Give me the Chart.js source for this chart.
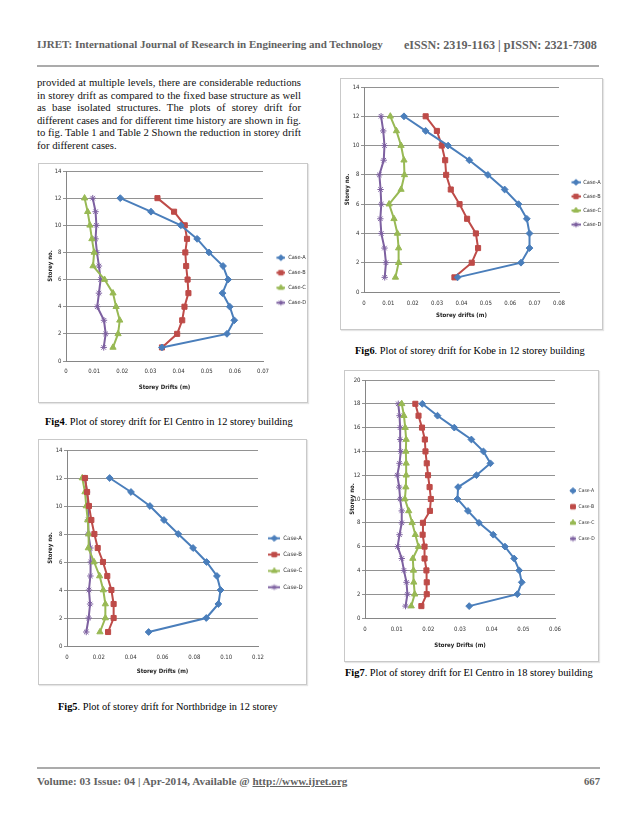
<!DOCTYPE html>
<html>
<head>
<meta charset="utf-8">
<script src="https://cdn.jsdelivr.net/npm/chart.js@4.4.1/dist/chart.umd.min.js"></script>
<style>
html, body { margin: 0; padding: 0; background: #fff; }
#page { position: relative; width: 638px; height: 826px; overflow: hidden; background: #fff;
  font-family: "Liberation Serif", "Times New Roman", serif; color: #000; }
.t { position: absolute; white-space: nowrap; font-size: 10px; line-height: 1.2; }
.hd { font-weight: bold; color: #626262; }
.hd u { text-decoration: underline; }
.rule { position: absolute; height: 2px; background: #ababab; }
.box { position: absolute; box-sizing: border-box; border: 1px solid #c9c9c9; background: #fff;
  box-shadow: 1px 1px 1px rgba(0,0,0,0.10); }
.box canvas { position: absolute; left: 0; top: 0; }
.pl { position: absolute; white-space: nowrap; line-height: 12px; height: 12px; overflow: visible; color: #111; }
</style>
</head>
<body>
<div id="page"></div>
<script>
// storey numbers (y values)
const storeys12 = [1, 2, 3, 4, 5, 6, 7, 8, 9, 10, 11, 12];
const storeys18 = [1, 2, 3, 4, 5, 6, 7, 8, 9, 10, 11, 12, 13, 14, 15, 16, 17, 18];
const caseNames = ['Case-A', 'Case-B', 'Case-C', 'Case-D'];

// Fig4 - El Centro, 12 storey (drift in m, storey 1..12)
const elc12A = [0.0341, 0.0572, 0.0598, 0.0582, 0.0556, 0.0576, 0.0558, 0.0508, 0.0466, 0.0408, 0.0302, 0.0193];
const elc12B = [0.0341, 0.0395, 0.0413, 0.0421, 0.0435, 0.0432, 0.0427, 0.0424, 0.0430, 0.0422, 0.0384, 0.0325];
const elc12C = [0.0167, 0.0185, 0.0191, 0.0178, 0.0167, 0.0137, 0.0096, 0.0100, 0.0092, 0.0085, 0.0077, 0.0066];
const elc12D = [0.0134, 0.0141, 0.0135, 0.0111, 0.0117, 0.0123, 0.0117, 0.0110, 0.0105, 0.0108, 0.0105, 0.0095];

// Fig6 - Kobe, 12 storey
const kobeA = [0.0384, 0.0644, 0.0679, 0.0679, 0.0668, 0.0634, 0.0577, 0.0508, 0.0432, 0.0345, 0.0253, 0.0164];
const kobeB = [0.0371, 0.0442, 0.0468, 0.0459, 0.0423, 0.0392, 0.0356, 0.0337, 0.0333, 0.0319, 0.0299, 0.0253];
const kobeC = [0.0129, 0.0142, 0.0142, 0.0137, 0.0123, 0.0103, 0.0152, 0.0166, 0.0164, 0.0152, 0.0133, 0.0108];
const kobeD = [0.0085, 0.0090, 0.0084, 0.0071, 0.0067, 0.0071, 0.0068, 0.0063, 0.0081, 0.0084, 0.0079, 0.0070];

// Fig5 - Northbridge, 12 storey
const nbA = [0.0513, 0.0875, 0.0951, 0.0965, 0.0942, 0.0877, 0.0792, 0.0699, 0.0609, 0.0521, 0.0402, 0.0268];
const nbB = [0.0258, 0.0293, 0.0293, 0.0279, 0.0253, 0.0226, 0.0193, 0.0172, 0.0153, 0.0138, 0.0126, 0.0113];
const nbC = [0.0207, 0.0241, 0.0241, 0.0228, 0.0205, 0.0170, 0.0134, 0.0136, 0.0130, 0.0121, 0.0113, 0.0096];
const nbD = [0.0121, 0.0136, 0.0145, 0.0138, 0.0147, 0.0149, 0.0147, 0.0134, 0.0132, 0.0136, 0.0126, 0.0113];

// Fig7 - El Centro, 18 storey
const elc18A = [0.0329, 0.0481, 0.0495, 0.0487, 0.0471, 0.0442, 0.0405, 0.0360, 0.0325, 0.0292, 0.0294, 0.0352, 0.0396, 0.0374, 0.0336, 0.0282, 0.0229, 0.0181];
const elc18B = [0.0178, 0.0195, 0.0195, 0.0194, 0.0188, 0.0188, 0.0182, 0.0183, 0.0205, 0.0208, 0.0204, 0.0199, 0.0195, 0.0191, 0.0189, 0.0180, 0.0169, 0.0159];
const elc18C = [0.0146, 0.0157, 0.0154, 0.0153, 0.0151, 0.0169, 0.0159, 0.0149, 0.0138, 0.0126, 0.0129, 0.0130, 0.0130, 0.0129, 0.0130, 0.0127, 0.0123, 0.0116];
const elc18D = [0.0128, 0.0134, 0.0131, 0.0123, 0.0116, 0.0103, 0.0109, 0.0116, 0.0116, 0.0111, 0.0108, 0.0102, 0.0109, 0.0113, 0.0111, 0.0111, 0.0109, 0.0105];

// axis ranges
const xMax4 = 0.07, xMax6 = 0.08, xMax5 = 0.12, xMax7 = 0.06;
const xStep4 = 0.01, xStep6 = 0.01, xStep5 = 0.02, xStep7 = 0.01;
const yMax12 = 14, yMax18 = 20, yStep = 2;

// page text
const headerLeft = 'IJRET: International Journal of Research in Engineering and Technology';
const headerRight = 'eISSN: 2319-1163 | pISSN: 2321-7308';
const paraLines = [
  'provided at multiple levels, there are considerable reductions',
  'in storey drift as compared to the fixed base structure as well',
  'as base isolated structures. The plots of storey drift for',
  'different cases and for different time history are shown in fig.',
  'to fig. Table 1 and Table 2 Shown the reduction in storey drift',
  'for different cases.'
];

// excel 2007 look
const colors = ['#4a7ebb', '#be4b48', '#98b954', '#7d60a0'];
const markers = ['rectRot', 'rect', 'triangle', 'star'];
const markerR = [3.4, 3.6, 3.6, 3.2];
const chartFont = "'Liberation Sans Narrow', 'DejaVu Sans Condensed', 'Liberation Sans', sans-serif";

const page = document.getElementById('page');

function addText(html, x, cy, w, cls, rightAlign) {
  const el = document.createElement('div');
  el.className = 't ' + (cls || '');
  el.innerHTML = html;
  page.appendChild(el);
  const fs = parseFloat(getComputedStyle(el).fontSize);
  const nat = el.getBoundingClientRect().width;
  el.style.fontSize = (fs * w / nat) + 'px';
  const h = el.getBoundingClientRect().height;
  el.style.top = (cy - h / 2) + 'px';
  el.style.left = (rightAlign ? x - w : x) + 'px';
}

function addRule(x1, x2, y) {
  const r = document.createElement('div');
  r.className = 'rule';
  r.style.left = x1 + 'px'; r.style.width = (x2 - x1) + 'px'; r.style.top = y + 'px';
  page.appendChild(r);
}

// header / footer
addText(headerLeft, 37, 45, 346, 'hd');
addText(headerRight, 597, 45, 193, 'hd', true);
addRule(37, 599, 65);
addRule(37, 600, 767);
addText('Volume: 03 Issue: 04 | Apr-2014, Available @ <u>http://www.ijret.org</u>', 37, 782, 311, 'hd');
addText('667', 600, 782, 16, 'hd', true);

// paragraph, justified lines
(function () {
  const W = 264;
  let maxW = 0;
  paraLines.slice(0, 5).forEach(s => {
    const sp = document.createElement('span');
    sp.className = 't'; sp.style.fontSize = '10px'; sp.textContent = s;
    page.appendChild(sp);
    maxW = Math.max(maxW, sp.getBoundingClientRect().width);
    page.removeChild(sp);
  });
  const fs = 10 * W / maxW;
  paraLines.forEach((s, i) => {
    const d = document.createElement('div');
    d.className = 'pl';
    d.style.fontSize = fs + 'px';
    d.style.left = '37px';
    d.style.top = (82 + i * 12.6 - 6) + 'px';
    if (i < paraLines.length - 1) {
      d.style.width = W + 'px';
      d.style.textAlign = 'justify';
      d.style.textAlignLast = 'justify';
    }
    d.textContent = s;
    page.appendChild(d);
  });
})();

// captions
addText('<b>Fig4</b>. Plot of storey drift for El Centro in 12 storey building', 45, 422, 248);
addText('<b>Fig6</b>. Plot of storey drift for Kobe in 12 storey building', 355, 351, 230);
addText('<b>Fig5</b>. Plot of storey drift for Northbridge in 12 storey', 58, 707, 220);
addText('<b>Fig7</b>. Plot of storey drift for El Centro in 18 storey building', 345, 673, 248);

// legend icon: short line with the marker on it
function makeIcon(i, w, lead) {
  const c = document.createElement('canvas');
  c.width = w; c.height = 9;
  const g = c.getContext('2d');
  g.strokeStyle = colors[i]; g.fillStyle = colors[i];
  g.lineWidth = 2;
  g.beginPath(); g.moveTo(lead, 4.5); g.lineTo(w, 4.5); g.stroke();
  g.lineWidth = 1;
  Chart.helpers.drawPoint(g, { pointStyle: markers[i], radius: markerR[i] * 0.9, borderWidth: 1, rotation: 0 }, (lead + w) / 2, 4.5);
  return c;
}

// moves the legend to a fixed spot next to the plot
const legendPlace = {
  id: 'legendPlace',
  afterLayout(chart, args, opts) {
    const lg = chart.legend;
    if (!lg) return;
    lg.left = opts.x; lg.right = chart.width; lg.width = lg.right - lg.left;
    lg.top = opts.y; lg.bottom = chart.height; lg.height = lg.bottom - lg.top;
  }
};

function drawChart(L) {
  const box = document.createElement('div');
  box.className = 'box';
  box.style.left = L.box[0] + 'px'; box.style.top = L.box[1] + 'px';
  box.style.width = L.box[2] + 'px'; box.style.height = L.box[3] + 'px';
  const cv = document.createElement('canvas');
  cv.width = L.box[2] - 2; cv.height = L.box[3] - 2;
  box.appendChild(cv);
  page.appendChild(box);

  const ox = L.box[0] + 1, oy = L.box[1] + 1;
  const l = L.plot[0] - ox, t = L.plot[1] - oy, r = L.plot[2] - ox, b = L.plot[3] - oy;
  const icons = caseNames.map((n, i) => makeIcon(i, L.lgBox, L.lgLead));
  const fs = L.lgFont;

  const datasets = L.series.map((vals, i) => ({
    label: caseNames[i],
    data: L.storeys.map((s, k) => ({ x: vals[k], y: s })),
    showLine: true,
    borderColor: colors[i],
    backgroundColor: colors[i],
    borderWidth: 2,
    pointStyle: markers[i],
    pointRadius: markerR[i],
    pointBorderWidth: 1,
    pointBackgroundColor: colors[i],
    pointBorderColor: colors[i],
    tension: 0
  }));

  new Chart(cv, {
    type: 'scatter',
    data: { datasets },
    options: {
      responsive: false,
      animation: false,
      events: [],
      layout: { padding: { left: 0, top: t, right: cv.width - r, bottom: 0 } },
      scales: {
        x: {
          type: 'linear', min: 0, max: L.xMax,
          ticks: { stepSize: L.xStep, font: { size: 6, family: chartFont }, color: '#333', padding: L.xTickPad, maxRotation: 0 },
          grid: { display: false, drawTicks: false },
          border: { display: true, color: '#868686', width: 1 },
          title: { display: true, text: L.xTitle, color: '#222', font: { size: 6, weight: 'bold', family: chartFont }, padding: { top: 0, bottom: L.xTitlePad } },
          afterFit(s) { s.height = cv.height - b; }
        },
        y: {
          type: 'linear', min: 0, max: L.yMax,
          ticks: { stepSize: yStep, font: { size: 6, family: chartFont }, color: '#333', padding: 1.5 },
          grid: { color: '#929292', lineWidth: 1, tickLength: 3 },
          border: { display: true, color: '#868686', width: 1 },
          title: { display: true, text: 'Storey no.', color: '#222', font: { size: 6, weight: 'bold', family: chartFont }, padding: { top: L.yTitlePad, bottom: 0 } },
          afterFit(s) { s.width = l; }
        }
      },
      plugins: {
        tooltip: { enabled: false },
        legend: {
          position: 'chartArea',
          align: 'start',
          labels: {
            usePointStyle: true,
            pointStyleWidth: L.lgBox,
            padding: L.lgPad,
            color: '#333',
            font: { size: fs, family: chartFont },
            generateLabels(chart) {
              const items = Chart.defaults.plugins.legend.labels.generateLabels(chart);
              items.forEach(it => { it.pointStyle = icons[it.datasetIndex]; });
              return items;
            }
          }
        },
        legendPlace: { x: r, y: L.lgFirst - oy - fs / 2 - L.lgPad }
      }
    },
    plugins: [legendPlace]
  });
}

drawChart({
  box: [38, 163, 270, 240], plot: [66, 171, 263, 361],
  storeys: storeys12, series: [elc12A, elc12B, elc12C, elc12D],
  xMax: xMax4, xStep: xStep4, yMax: yMax12, xTitle: 'Storey Drifts (m)',
  xTickPad: 6.4, xTitlePad: 11.4, yTitlePad: 7.4,
  lgPad: 9.4, lgLead: 4, lgBox: 13, lgFirst: 257.7, lgFont: 5.6
});
drawChart({
  box: [340, 78, 263, 252], plot: [364, 87, 559, 292],
  storeys: storeys12, series: [kobeA, kobeB, kobeC, kobeD],
  xMax: xMax6, xStep: xStep6, yMax: yMax12, xTitle: 'Storey drifts (m)',
  xTickPad: 7.7, xTitlePad: 10.4, yTitlePad: 2.4,
  lgPad: 8.5, lgLead: 4, lgBox: 13, lgFirst: 182.3, lgFont: 5.6
});
drawChart({
  box: [38, 439, 269, 246], plot: [67, 450, 258, 646],
  storeys: storeys12, series: [nbA, nbB, nbC, nbD],
  xMax: xMax5, xStep: xStep5, yMax: yMax12, xTitle: 'Storey Drifts (m)',
  xTickPad: 7.4, xTitlePad: 8.7, yTitlePad: 8.1,
  lgPad: 10.3, lgLead: 0, lgBox: 12, lgFirst: 538.3, lgFont: 6
});
drawChart({
  box: [344, 370, 255, 292], plot: [365, 380, 555, 618],
  storeys: storeys18, series: [elc18A, elc18B, elc18C, elc18D],
  xMax: xMax7, xStep: xStep7, yMax: yMax18, xTitle: 'Storey Drifts (m)',
  xTickPad: 8, xTitlePad: 11.7, yTitlePad: 3.4,
  lgPad: 11, lgLead: 4, lgBox: 10, lgFirst: 490.7, lgFont: 5
});
</script>
</body>
</html>
